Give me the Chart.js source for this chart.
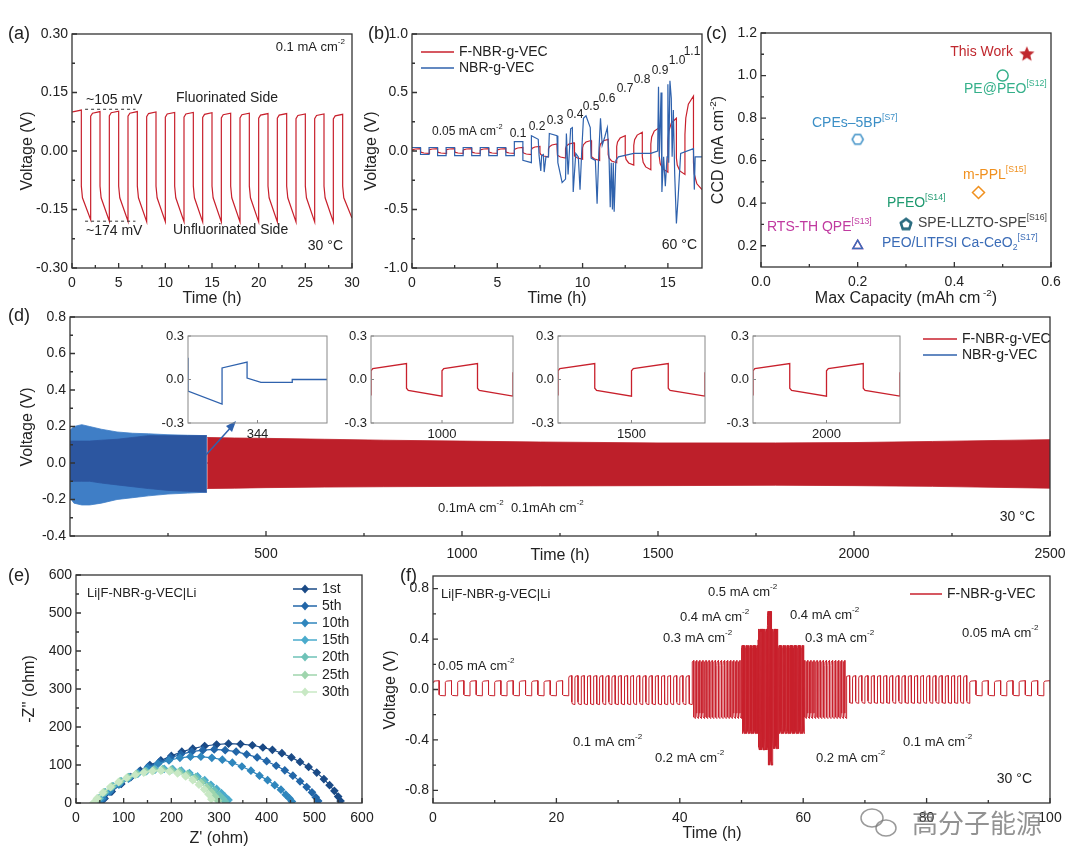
<!DOCTYPE html><html><head><meta charset="utf-8">
<script src="https://cdn.jsdelivr.net/npm/chart.js@4.4.1/dist/chart.umd.min.js"></script>
<style>body{margin:0;background:#fff;width:1080px;height:868px;position:relative;overflow:hidden}canvas{position:absolute}</style></head><body>
<script>
const FONT='"Liberation Sans", Arial, sans-serif';
const RED='#c8202c', BLUE='#2f62ad';
// ---------- (a) data ----------
const aStart=[0,2,4,6,8,10,12,14,16,18,20,22,24,26,28];
const aTop=[0.105,0.101,0.102,0.101,0.1,0.099,0.099,0.098,0.097,0.097,0.096,0.096,0.095,0.095,0.094];
const aBot=[-0.176,-0.18,-0.18,-0.181,-0.181,-0.181,-0.182,-0.182,-0.182,-0.182,-0.182,-0.182,-0.182,-0.182,-0.172];
// ---------- (b) data ----------
const bHour=[0,1,2,3,4,5,6,7,8,9,10,11,12,13,14,15,16];
const bRedTop=[0.02,0.02,0.02,0.02,0.02,0.02,0.03,0.04,0.06,0.07,0.09,0.1,0.13,0.16,0.2,0.28,0.47];
const bRedBot=[-0.02,-0.02,-0.02,-0.02,-0.02,-0.02,-0.03,-0.05,-0.06,-0.07,-0.08,-0.1,-0.12,-0.16,-0.18,-0.2,-0.33];
const bBlueHour=[0,1,2,3,4,5];
const bBlueTop=[0.03,0.03,0.03,0.03,0.03,0.03];
const bBlueBot=[-0.03,-0.04,-0.04,-0.04,-0.04,-0.04];
const bBlueT=[6,6.5,6.5,7,7,7.4,7.45,7.55,7.6,7.7,7.75,7.85,8.0,8.05,8.5,8.55,8.8,9.0,9.05,9.15,9.3,9.4,9.45,9.6,9.75,9.85,9.95,10.05,10.2,10.45,10.5,10.75,10.85,10.95,11.05,11.15,11.3,11.45,11.55,11.62,11.68,11.75,11.8,11.85,11.95,12.1,13,14,14.4,14.45,14.5,14.6,14.65,14.75,14.85,14.95,15.0,15.05,15.12,15.2,15.25,15.32,15.4,15.5,15.6,15.75,16.5,16.55,16.6,17];
const bBlueV=[0.08,0.08,-0.08,-0.1,0.13,0.1,-0.04,-0.17,-0.04,-0.03,-0.18,-0.05,-0.05,0.15,0.13,-0.1,-0.27,-0.24,0.15,-0.2,0.19,0.2,-0.35,-0.02,-0.05,-0.33,0.0,0.28,0.3,0.2,-0.06,-0.08,-0.45,-0.02,0.28,0.05,0.12,0.2,-0.05,-0.48,-0.1,-0.5,-0.1,-0.52,-0.08,-0.05,-0.02,-0.02,0.0,0.55,-0.05,0.5,-0.35,-0.05,-0.3,-0.05,0.57,-0.1,0.6,0.45,-0.05,0.35,-0.2,-0.62,-0.4,-0.02,0.02,-0.33,-0.05,-0.05];
const bRateLabels=['0.1','0.2','0.3','0.4','0.5','0.6','0.7','0.8','0.9','1.0','1.1'];
// ---------- (c) data ----------
const cNames=['This Work','PE@PEO^{[S12]}','CPEs–5BP^{[S7]}','m-PPL^{[S15]}','PEO/LITFSI Ca-CeO_{2}^{[S17]}','RTS-TH QPE^{[S13]}','PFEO^{[S14]}','SPE-LLZTO-SPE^{[S16]}'];
const cCap=[0.55,0.5,0.2,0.45,0.2,0.2,0.3,0.3];
const cCCD=[1.1,1.0,0.7,0.45,0.2,0.2,0.3,0.3];
// ---------- (d) data ----------
const dRedT=[350,420,500,650,800,1000,1200,1500,1800,2000,2200,2500];
const dRedUp=[0.14,0.137,0.135,0.13,0.125,0.12,0.115,0.11,0.11,0.112,0.118,0.128];
const dRedLo=[-0.14,-0.138,-0.135,-0.132,-0.13,-0.128,-0.126,-0.124,-0.122,-0.124,-0.128,-0.138];
const dBlueT=[0,10,30,50,80,120,160,200,250,300,349];
const dBlueUp=[0.18,0.2,0.21,0.2,0.185,0.17,0.163,0.16,0.155,0.152,0.15];
const dBlueLo=[-0.19,-0.22,-0.23,-0.23,-0.22,-0.2,-0.19,-0.18,-0.17,-0.165,-0.16];
const dBlueInUp=[0.12,0.12,0.12,0.12,0.125,0.13,0.14,0.15,0.15,0.15,0.15];
const dBlueInLo=[-0.1,-0.1,-0.1,-0.1,-0.11,-0.12,-0.13,-0.14,-0.15,-0.155,-0.16];
const inset1T=[340,340,341.96,341.96,343.4,343.4,344.2,346,346,348];
const inset1V=[0.15,-0.08,-0.17,0.08,0.12,0.01,-0.02,-0.02,0.0,0.0];
const insetRedT=[-4,-4,-3.9,-2,-2,-1.9,0,0,0.1,2,2,2.1,4,4];
const insetRedV=[-0.11,0.06,0.075,0.11,-0.06,-0.075,-0.115,0.06,0.075,0.11,-0.06,-0.075,-0.115,0.05];
const insetCenters=[1000,1500,2000];
// ---------- (e) data ----------
const eNames=['1st','5th','10th','15th','20th','25th','30th'];
const eColors=['#1a4a86','#2266a8','#2f86bd','#4aabcc','#6ec2b7','#9fd5ad','#c8e8c4'];
const eRe=[
[52,60,75,95,115,135,155,178,200,222,245,270,295,320,345,370,392,412,432,452,470,488,505,520,532,542,550,555],
[48,58,72,92,112,132,152,175,198,220,243,266,290,313,336,358,380,400,420,438,455,470,484,495,503,508],
[45,55,70,90,110,130,150,172,195,218,240,262,285,307,328,348,367,385,402,417,430,440,448,453],
[42,50,62,78,95,112,130,148,166,185,203,221,238,255,270,283,295,305,313,320,324],
[40,48,60,76,93,110,128,146,164,182,200,218,235,251,266,279,290,300,308,313],
[38,46,58,74,91,108,126,144,162,180,198,215,232,248,262,274,284,292,298],
[36,44,56,72,89,106,124,142,160,178,196,213,230,245,258,269,278,284]];
const eIm=[
[0,12,30,50,68,85,100,112,124,135,143,150,154,156,155,152,146,140,131,120,108,95,80,63,47,32,17,5],
[0,12,30,50,66,82,96,108,119,128,135,139,141,139,135,128,120,110,98,86,72,57,42,28,15,5],
[0,12,30,48,64,79,92,103,112,119,122,122,119,114,106,96,85,72,60,47,35,22,12,4],
[0,12,28,44,57,68,77,84,88,90,89,85,79,70,60,48,37,26,16,8],
[0,12,28,44,57,68,77,84,88,89,88,84,77,68,57,45,33,21,11,4],
[0,12,28,43,56,67,76,82,86,87,86,81,74,64,53,41,29,17,6],
[0,12,27,42,55,66,74,80,84,85,83,78,70,60,48,36,23,10]];
// ---------- (f) data ----------
const fStart=[0,22,42,50,52.7,54.2,55,56,60,67,87];
const fEnd=[22,42,50,52.7,54.2,55,56,60,67,87,100];
const fPeriod=[2,1,0.5,0.22,0.2,0.2,0.2,0.22,0.5,1,2];
const fTop=[0.07,0.11,0.23,0.35,0.48,0.62,0.48,0.35,0.23,0.11,0.07];
const fBot=[-0.05,-0.12,-0.23,-0.35,-0.48,-0.6,-0.47,-0.35,-0.23,-0.11,-0.05];

// ---------- helpers ----------
function rich(ctx,s,x,y,size,color,align,rot){
  const toks=[];const re=/\^\{([^}]*)\}|_\{([^}]*)\}/g;let last=0,m;
  while((m=re.exec(s))){if(m.index>last)toks.push({t:s.slice(last,m.index),k:0});toks.push(m[1]!==undefined?{t:m[1],k:1}:{t:m[2],k:2});last=re.lastIndex;}
  if(last<s.length)toks.push({t:s.slice(last),k:0});
  ctx.save();ctx.translate(x,y);if(rot)ctx.rotate(rot);
  ctx.fillStyle=color;ctx.textBaseline='middle';ctx.textAlign='left';
  let w=0;toks.forEach(o=>{ctx.font=(o.k?size*0.62:size)+'px '+FONT;o.w=ctx.measureText(o.t).width;w+=o.w;});
  let cx=align==='center'?-w/2:align==='right'?-w:0;
  toks.forEach(o=>{ctx.font=(o.k?size*0.62:size)+'px '+FONT;ctx.fillText(o.t,cx,o.k===1?-size*0.38:o.k===2?size*0.3:0);cx+=o.w;});
  ctx.restore();
}
function fmtDec(d){return v=>Number(v).toFixed(d);}
function makeChart(cfg){
  const M=cfg.M||{l:70,t:22,r:22,b:45};
  const r=cfg.rect;
  const cv=document.createElement('canvas');
  const L=r.l-M.l,T=r.t-M.t,W=r.w+M.l+M.r,H=r.h+M.t+M.b;
  cv.width=W;cv.height=H;cv.style.left=L+'px';cv.style.top=T+'px';cv.style.width=W+'px';cv.style.height=H+'px';
  document.body.appendChild(cv);
  const fs=cfg.fs||14;
  const ax=(a,isX)=>({type:'linear',min:a.min,max:a.max,
    afterBuildTicks:s=>{s.ticks=a.ticks.map(v=>({value:v}));},
    afterFit:s=>{if(isX)s.height=M.b;else s.width=M.l;s.paddingLeft=0;s.paddingRight=0;s.paddingTop=0;s.paddingBottom=0;},
    grid:{display:false,drawTicks:false},border:{display:false},
    ticks:{font:{family:FONT,size:fs},color:'#222',padding:isX?(cfg.xpad||7):4,maxRotation:0,autoSkip:false,
      callback:(v)=>a.fmt?a.fmt(v):String(v)}});
  const plugin={id:'deco',afterDraw(ch){
    const ctx=ch.ctx,ca=ch.chartArea,xs=ch.scales.x,ys=ch.scales.y;
    ctx.save();ctx.strokeStyle=cfg.frame||'#333';ctx.lineWidth=cfg.frameW||1.3;
    ctx.strokeRect(ca.left,ca.top,ca.right-ca.left,ca.bottom-ca.top);
    const tl=cfg.tickLen||5;
    ctx.beginPath();
    (cfg.x.ticks).forEach(v=>{const p=xs.getPixelForValue(v);ctx.moveTo(p,ca.bottom);ctx.lineTo(p,ca.bottom-tl);});
    (cfg.x.minor||[]).forEach(v=>{const p=xs.getPixelForValue(v);ctx.moveTo(p,ca.bottom);ctx.lineTo(p,ca.bottom-tl*0.6);});
    (cfg.y.ticks).forEach(v=>{const p=ys.getPixelForValue(v);ctx.moveTo(ca.left,p);ctx.lineTo(ca.left+tl,p);});
    (cfg.y.minor||[]).forEach(v=>{const p=ys.getPixelForValue(v);ctx.moveTo(ca.left,p);ctx.lineTo(ca.left+tl*0.6,p);});
    ctx.stroke();
    if(cfg.extraChart)cfg.extraChart(ctx,ch);
    ctx.translate(-L,-T);
    (cfg.texts||[]).forEach(t=>rich(ctx,t.s,t.x,t.y,t.size||14,t.c||'#222',t.a||'left',t.rot||0));
    (cfg.legend||[]).forEach(g=>{ctx.strokeStyle=g.c;ctx.lineWidth=g.lw||1.5;ctx.beginPath();ctx.moveTo(g.x1,g.y);ctx.lineTo(g.x2,g.y);ctx.stroke();
      if(g.marker){ctx.fillStyle=g.c;const m=(g.x1+g.x2)/2;ctx.beginPath();ctx.moveTo(m,g.y-4.5);ctx.lineTo(m+4,g.y);ctx.lineTo(m,g.y+4.5);ctx.lineTo(m-4,g.y);ctx.closePath();ctx.fill();}
      rich(ctx,g.s,g.x2+5,g.y,g.size||15,'#222','left');});
    if(cfg.extra)cfg.extra(ctx,ch);
    ctx.restore();
  }};
  return new Chart(cv,{type:'scatter',data:{datasets:cfg.datasets},plugins:[plugin],
    options:{responsive:false,animation:false,devicePixelRatio:1,
      layout:{padding:{top:M.t,right:M.r,left:0,bottom:0}},
      plugins:{legend:{display:false},tooltip:{enabled:false}},
      scales:{x:ax(cfg.x,true),y:ax(cfg.y,false)}}});
}
const line=(pts,c,w)=>({data:pts,showLine:true,borderColor:c,borderWidth:w||1.2,pointRadius:0,fill:false,tension:0});
function shapeImg(kind,color,r,fill,lw){
  const c=document.createElement('canvas');const s=Math.ceil(r*2+lw*2+2);c.width=s;c.height=s;const g=c.getContext('2d');
  g.translate(s/2,s/2);g.beginPath();
  if(kind==='star'){for(let i=0;i<10;i++){const a=-Math.PI/2+i*Math.PI/5,rr=i%2?r*0.45:r;g.lineTo(rr*Math.cos(a),rr*Math.sin(a));}}
  else{const n=kind==='hex'?6:5;for(let i=0;i<n;i++){const a=(kind==='hex'?0:-Math.PI/2)+i*2*Math.PI/n;g.lineTo(r*Math.cos(a),r*Math.sin(a));}}
  g.closePath();if(fill){g.fillStyle=color;g.fill();}else{g.strokeStyle=color;g.lineWidth=lw;g.stroke();}
  return c;
}

// ---------- panel (a) ----------
(function(){
  const pts=[];
  aStart.forEach((s,i)=>{const t=aTop[i],b=aBot[i];
    pts.push({x:s,y:i===0?0.1:t-0.012},{x:s+0.2,y:t-0.004},{x:s+1,y:t},{x:s+1,y:-0.09},{x:s+1.12,y:-0.12},{x:s+2,y:b});});
  makeChart({rect:{l:72,t:34,w:280,h:234},
    x:{min:0,max:30,ticks:[0,5,10,15,20,25,30],minor:[2.5,7.5,12.5,17.5,22.5,27.5]},
    y:{min:-0.3,max:0.3,ticks:[-0.3,-0.15,0,0.15,0.3],minor:[-0.225,-0.075,0.075,0.225],fmt:fmtDec(2)},
    datasets:[line(pts,RED,1.2)],
    texts:[{s:'(a)',x:8,y:34,size:18},{s:'Voltage (V)',x:28,y:151,size:16,a:'center',rot:-Math.PI/2},{s:'Time (h)',x:212,y:299,size:16,a:'center'},
      {s:'0.1 mA cm^{-2}',x:345,y:47,size:13,a:'right'},{s:'~105 mV',x:86,y:100,size:14},{s:'Fluorinated Side',x:176,y:98,size:14},
      {s:'~174 mV',x:86,y:231,size:14},{s:'Unfluorinated Side',x:173,y:230,size:14},{s:'30 °C',x:343,y:246,size:14,a:'right'}],
    extraChart:(ctx,ch)=>{const xs=ch.scales.x,ys=ch.scales.y;ctx.save();ctx.setLineDash([3,3]);ctx.strokeStyle='#333';ctx.lineWidth=1;
      ctx.beginPath();ctx.moveTo(xs.getPixelForValue(1.4),ys.getPixelForValue(0.107));ctx.lineTo(xs.getPixelForValue(6.8),ys.getPixelForValue(0.107));
      ctx.moveTo(xs.getPixelForValue(1.4),ys.getPixelForValue(-0.18));ctx.lineTo(xs.getPixelForValue(6.8),ys.getPixelForValue(-0.18));ctx.stroke();ctx.restore();}
  });
})();
// ---------- panel (b) ----------
(function(){
  const red=[];bHour.forEach((h,i)=>{const t=bRedTop[i],b=bRedBot[i];
    red.push({x:h,y:t*0.3},{x:h+0.05,y:t*0.6},{x:h+0.2,y:t*0.85},{x:h+0.5,y:t},{x:h+0.5,y:b*0.3},{x:h+0.55,y:b*0.6},{x:h+0.7,y:b*0.85},{x:h+1,y:b});});
  const blue=[];bBlueHour.forEach((h,i)=>{blue.push({x:h,y:bBlueTop[i]},{x:h+0.5,y:bBlueTop[i]},{x:h+0.5,y:bBlueBot[i]},{x:h+1,y:bBlueBot[i]});});
  bBlueT.forEach((t,i)=>blue.push({x:t,y:bBlueV[i]}));
  const rx=[518,537,555,575,591,607,625,642,660,677,692],ry=[134,127,121,115,107,99,89,80,71,61,52];
  const texts=[{s:'(b)',x:368,y:34,size:18},{s:'Voltage (V)',x:372,y:151,size:16,a:'center',rot:-Math.PI/2},{s:'Time (h)',x:557,y:299,size:16,a:'center'},
    {s:'0.05 mA cm^{-2}',x:432,y:132,size:12},{s:'60 °C',x:697,y:245,size:14,a:'right'}];
  bRateLabels.forEach((s,i)=>texts.push({s,x:rx[i],y:ry[i],size:12,a:'center'}));
  makeChart({rect:{l:412,t:34,w:290,h:234},
    x:{min:0,max:17,ticks:[0,5,10,15],minor:[2.5,7.5,12.5]},
    y:{min:-1,max:1,ticks:[-1,-0.5,0,0.5,1],minor:[-0.75,-0.25,0.25,0.75],fmt:fmtDec(1)},
    datasets:[line(blue,BLUE,1.2),line(red,RED,1.2)],texts,
    legend:[{x1:421,x2:454,y:52,c:RED,s:'F-NBR-g-VEC',size:14},{x1:421,x2:454,y:68,c:BLUE,s:'NBR-g-VEC',size:14}]});
})();
// ---------- panel (c) ----------
(function(){
  const styles=[shapeImg('star','#c0282e',8,true,0),'circle',shapeImg('hex','#3c8fc6',5.5,false,1.5),'rectRot','triangle','triangle',shapeImg('pent','#2b6c80',5.5,false,2.2),shapeImg('pent','#2b6c80',5.5,false,2.2)];
  const mcol=['#c0282e','#35b08a','#3c8fc6','#f0901e','#3b6cb7','#c03aa0','#2b6c80','#2b6c80'];
  const ds=cCap.map((x,i)=>({data:[{x,y:cCCD[i]}],pointStyle:styles[i],pointRadius:i===3?6:5.5,borderColor:mcol[i],backgroundColor:'rgba(0,0,0,0)',pointBorderWidth:1.5}));
  const tx=[{x:1013,y:52,a:'right',c:'#c0282e'},{x:964,y:89,c:'#35b08a'},{x:812,y:123,c:'#3c8fc6'},{x:963,y:175,c:'#f0901e'},{x:882,y:243,c:'#3b6cb7'},{x:767,y:227,c:'#c03aa0'},{x:887,y:203,c:'#1f9a70'},{x:918,y:223,c:'#444'}];
  const texts=[{s:'(c)',x:706,y:34,size:18},{s:'CCD (mA cm^{-2})',x:719,y:150,size:16,a:'center',rot:-Math.PI/2},{s:'Max Capacity (mAh cm^{ -2})',x:906,y:299,size:16,a:'center'}];
  cNames.forEach((s,i)=>texts.push({s,x:tx[i].x,y:tx[i].y,a:tx[i].a||'left',c:tx[i].c,size:14}));
  makeChart({rect:{l:761,t:33,w:290,h:234},
    x:{min:0,max:0.6,ticks:[0,0.2,0.4,0.6],minor:[0.1,0.3,0.5],fmt:fmtDec(1)},
    y:{min:0.1,max:1.2,ticks:[0.2,0.4,0.6,0.8,1.0,1.2],minor:[0.3,0.5,0.7,0.9,1.1],fmt:fmtDec(1)},
    datasets:ds,texts});
})();
// ---------- panel (d) ----------
(function(){
  const env=(T,V)=>T.map((t,i)=>({x:t,y:V[i]}));
  const f=(T,V,c,fill)=>({data:env(T,V),showLine:true,borderColor:c,backgroundColor:c,borderWidth:0.8,pointRadius:0,fill});
  makeChart({rect:{l:70,t:317,w:980,h:219},xpad:10,
    x:{min:0,max:2500,ticks:[500,1000,1500,2000,2500],minor:[250,750,1250,1750,2250]},
    y:{min:-0.4,max:0.8,ticks:[-0.4,-0.2,0,0.2,0.4,0.6,0.8],minor:[-0.3,-0.1,0.1,0.3,0.5,0.7],fmt:fmtDec(1)},
    datasets:[f(dBlueT,dBlueInUp,'#2c56a0','+1'),f(dBlueT,dBlueInLo,'#2c56a0',false),f(dBlueT,dBlueUp,'#3f7ec6','+1'),f(dBlueT,dBlueLo,'#3f7ec6',false),
      f(dRedT,dRedUp,'#bd1f2a','+1'),f(dRedT,dRedLo,'#bd1f2a',false),line([{x:350,y:0},{x:510,y:0}],'#3a6fbf',1.5)],
    texts:[{s:'(d)',x:8,y:316,size:18},{s:'Voltage (V)',x:28,y:427,size:16,a:'center',rot:-Math.PI/2},{s:'Time (h)',x:560,y:556,size:16,a:'center'},
      {s:'0.1mA cm^{-2}  0.1mAh cm^{-2}',x:438,y:508,size:13},{s:'30 °C',x:1035,y:517,size:14,a:'right'}],
    legend:[{x1:923,x2:957,y:339,c:RED,s:'F-NBR-g-VEC',size:14},{x1:923,x2:957,y:355,c:BLUE,s:'NBR-g-VEC',size:14}],
    extra:(ctx)=>{ctx.strokeStyle='#2f62ad';ctx.fillStyle='#2f62ad';ctx.lineWidth=1.5;ctx.beginPath();ctx.moveTo(206,455);ctx.lineTo(233,425);ctx.stroke();
      ctx.beginPath();ctx.moveTo(236,421);ctx.lineTo(226,426);ctx.lineTo(232,432);ctx.closePath();ctx.fill();}
  });
  const IM={l:34,t:6,r:4,b:22};
  const inset=(l,w,T,V,c,center)=>makeChart({rect:{l,t:336,w,h:87},M:IM,fs:13,frame:'#888',frameW:1,tickLen:3,xpad:4,
    x:{min:T[0],max:T[T.length-1],ticks:[center]},y:{min:-0.3,max:0.3,ticks:[-0.3,0,0.3],fmt:fmtDec(1)},
    datasets:[line(T.map((t,i)=>({x:t,y:V[i]})),c,1.3)]});
  inset(188,139,inset1T,inset1V,BLUE,344);
  const ils=[371,558,753],iws=[142,147,147];
  insetCenters.forEach((c,k)=>inset(ils[k],iws[k],insetRedT.map(t=>c+t),insetRedV,RED,c));
})();
// ---------- panel (e) ----------
(function(){
  const ds=eRe.map((xs,i)=>({data:xs.map((x,j)=>({x,y:eIm[i][j]})),showLine:true,borderColor:eColors[i],backgroundColor:eColors[i],borderWidth:1.2,pointStyle:'rectRot',pointRadius:3.5}));
  const ys=[589,606,623,640,657,675,692];
  makeChart({rect:{l:76,t:575,w:286,h:228},
    x:{min:0,max:600,ticks:[0,100,200,300,400,500,600],minor:[50,150,250,350,450,550]},
    y:{min:0,max:600,ticks:[0,100,200,300,400,500,600],minor:[50,150,250,350,450,550]},
    datasets:ds.reverse(),
    texts:[{s:'(e)',x:8,y:576,size:18},{s:'-Z\'\' (ohm)',x:30,y:689,size:16,a:'center',rot:-Math.PI/2},{s:'Z\' (ohm)',x:219,y:839,size:16,a:'center'},
      {s:'Li|F-NBR-g-VEC|Li',x:87,y:593,size:13}],
    legend:eNames.map((s,i)=>({x1:293,x2:317,y:ys[i],c:eColors[i],s,marker:true,size:14}))});
})();
// ---------- panel (f) ----------
(function(){
  const pts=[];
  fStart.forEach((s0,i)=>{const p=fPeriod[i],t=fTop[i],b=fBot[i];
    for(let s=s0;s<fEnd[i]-1e-6;s+=p){pts.push({x:s,y:t*0.82},{x:s+p*0.08,y:t*0.95},{x:s+p/2,y:t},{x:s+p/2,y:b*0.82},{x:s+p*0.58,y:b*0.95},{x:s+p,y:b});}});
  makeChart({rect:{l:433,t:576,w:617,h:227},
    x:{min:0,max:100,ticks:[0,20,40,60,80,100],minor:[10,30,50,70,90]},
    y:{min:-0.9,max:0.9,ticks:[-0.8,-0.4,0,0.4,0.8],minor:[-0.6,-0.2,0.2,0.6],fmt:fmtDec(1)},
    datasets:[line(pts,RED,1)],
    texts:[{s:'(f)',x:400,y:576,size:18},{s:'Voltage (V)',x:391,y:690,size:16,a:'center',rot:-Math.PI/2},{s:'Time (h)',x:712,y:834,size:16,a:'center'},
      {s:'Li|F-NBR-g-VEC|Li',x:441,y:594,size:13},
      {s:'0.05 mA cm^{-2}',x:438,y:666,size:13},{s:'0.1 mA cm^{-2}',x:573,y:742,size:13},{s:'0.2 mA cm^{-2}',x:655,y:758,size:13},
      {s:'0.3 mA cm^{-2}',x:663,y:638,size:13},{s:'0.4 mA cm^{-2}',x:680,y:617,size:13},{s:'0.5 mA cm^{-2}',x:708,y:592,size:13},
      {s:'0.4 mA cm^{-2}',x:790,y:615,size:13},{s:'0.3 mA cm^{-2}',x:805,y:638,size:13},{s:'0.2 mA cm^{-2}',x:816,y:758,size:13},
      {s:'0.1 mA cm^{-2}',x:903,y:742,size:13},{s:'0.05 mA cm^{-2}',x:962,y:633,size:13},{s:'30 °C',x:1032,y:779,size:14,a:'right'}],
    legend:[{x1:910,x2:942,y:594,c:RED,s:'F-NBR-g-VEC',size:14}],
    extra:(ctx)=>{ctx.fillStyle='rgba(110,110,110,0.75)';ctx.font='26px "Noto Sans CJK SC"';ctx.textBaseline='middle';ctx.fillText('高分子能源',912,823);
      ctx.strokeStyle='rgba(120,120,120,0.75)';ctx.lineWidth=1.5;ctx.beginPath();ctx.ellipse(872,818,11,9,0,0,Math.PI*2);ctx.stroke();
      ctx.beginPath();ctx.ellipse(886,828,10,8,0,0,Math.PI*2);ctx.stroke();}
  });
})();
</script></body></html>
